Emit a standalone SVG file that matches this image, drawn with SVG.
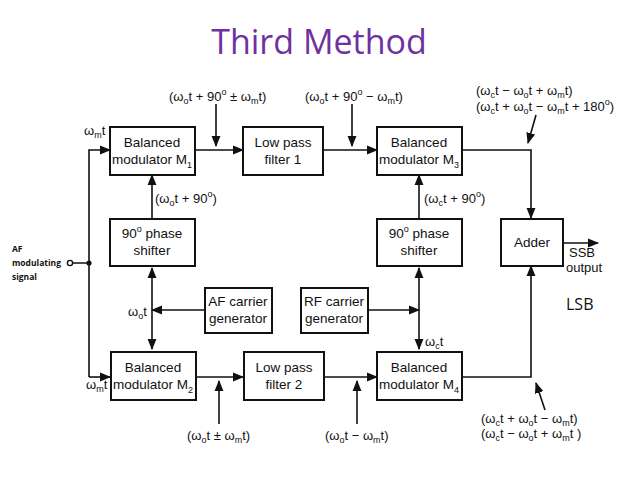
<svg xmlns="http://www.w3.org/2000/svg" width="638" height="478" viewBox="0 0 638 478">
<style>
.b{fill:#fff;stroke:#111;stroke-width:2}
.t{font-family:"Liberation Sans",Arial,sans-serif;font-size:13.5px;fill:#111;text-anchor:middle}
.l{font-family:"Liberation Sans",Arial,sans-serif;font-size:13px;fill:#111}
.c{stroke:#111;stroke-width:1.6;fill:none}
.s{font-size:9px}
</style>
<defs><marker id="a" viewBox="0 0 10 10" refX="9" refY="5" markerWidth="7" markerHeight="7" orient="auto-start-reverse"><path d="M0,1 L10,5 L0,9 z" fill="#111"/></marker></defs>
<rect width="638" height="478" fill="#fff"/>
<text x="319" y="54" font-family="Open Sans,Liberation Sans,sans-serif" font-size="34" fill="#7030A0" text-anchor="middle">Third Method</text>
<g id="connectors" class="c">
<path d="M72,263 H89 M89,377 V150 H110" marker-end="url(#a)"/>
<path d="M89,377 H110" marker-end="url(#a)"/>
<path d="M195,150 H243" marker-end="url(#a)"/>
<path d="M323,150 H377" marker-end="url(#a)"/>
<path d="M216,104 V146" marker-end="url(#a)"/>
<path d="M352,104 V146" marker-end="url(#a)"/>
<path d="M462,150 H531 V218" marker-end="url(#a)"/>
<path d="M536,115 L528,143" marker-end="url(#a)"/>
<path d="M563,243 H598" marker-end="url(#a)"/>
<path d="M152,218 V175" marker-end="url(#a)"/>
<path d="M419,218 V175" marker-end="url(#a)"/>
<path d="M205,310 H152" marker-end="url(#a)"/>
<path d="M152,268 V349" marker-start="url(#a)" marker-end="url(#a)"/>
<path d="M368,310 H419" marker-end="url(#a)"/>
<path d="M419,268 V349" marker-start="url(#a)" marker-end="url(#a)"/>
<path d="M195,377 H243" marker-end="url(#a)"/>
<path d="M323,377 H377" marker-end="url(#a)"/>
<path d="M219,424 V381" marker-end="url(#a)"/>
<path d="M357,424 V381" marker-end="url(#a)"/>
<path d="M462,377 H531 V266" marker-end="url(#a)"/>
<path d="M545,410 L536,383" marker-end="url(#a)"/>
</g>
<circle cx="70" cy="263" r="2.6" fill="#fff" stroke="#111" stroke-width="1.4"/>
<circle cx="89" cy="263" r="2.6" fill="#111"/>
<g id="m1"><rect class="b" x="110" y="127" width="85" height="48"/><text class="t" x="152" y="147">Balanced</text><text class="t" x="152" y="164">modulator M<tspan class="s" dy="4">1</tspan></text></g>
<g id="lpf1"><rect class="b" x="243" y="127" width="80" height="48"/><text class="t" x="283" y="147">Low pass</text><text class="t" x="283" y="164">filter 1</text></g>
<g id="m3"><rect class="b" x="377" y="127" width="85" height="48"/><text class="t" x="419" y="147">Balanced</text><text class="t" x="419" y="164">modulator M<tspan class="s" dy="4">3</tspan></text></g>
<g id="ps1"><rect class="b" x="110" y="219" width="85" height="47"/><text class="t" x="152" y="238">90<tspan class="s" dy="-6">o</tspan><tspan dy="6"> phase</tspan></text><text class="t" x="152" y="255">shifter</text></g>
<g id="ps2"><rect class="b" x="377" y="219" width="85" height="47"/><text class="t" x="419" y="238">90<tspan class="s" dy="-6">o</tspan><tspan dy="6"> phase</tspan></text><text class="t" x="419" y="255">shifter</text></g>
<g id="adder"><rect class="b" x="501" y="219" width="62" height="47"/><text class="t" x="532" y="247">Adder</text></g>
<g id="afgen"><rect class="b" x="205" y="288" width="67" height="45"/><text class="t" x="238" y="306">AF carrier</text><text class="t" x="238" y="323">generator</text></g>
<g id="rfgen"><rect class="b" x="301" y="288" width="67" height="45"/><text class="t" x="334" y="306">RF carrier</text><text class="t" x="334" y="323">generator</text></g>
<g id="m2"><rect class="b" x="111" y="352" width="85" height="48"/><text class="t" x="153" y="372">Balanced</text><text class="t" x="153" y="389">modulator M<tspan class="s" dy="4">2</tspan></text></g>
<g id="lpf2"><rect class="b" x="244" y="352" width="80" height="48"/><text class="t" x="284" y="372">Low pass</text><text class="t" x="284" y="389">filter 2</text></g>
<g id="m4"><rect class="b" x="377" y="352" width="85" height="48"/><text class="t" x="419" y="372">Balanced</text><text class="t" x="419" y="389">modulator M<tspan class="s" dy="4">4</tspan></text></g>
<g id="labels">
<text class="l" x="169" y="101">(ω<tspan class="s" dy="3">o</tspan><tspan dy="-3">t + 90</tspan><tspan class="s" dy="-6">o</tspan><tspan dy="6"> ± ω</tspan><tspan class="s" dy="3">m</tspan><tspan dy="-3">t)</tspan></text>
<text class="l" x="305" y="101">(ω<tspan class="s" dy="3">o</tspan><tspan dy="-3">t + 90</tspan><tspan class="s" dy="-6">o</tspan><tspan dy="6"> − ω</tspan><tspan class="s" dy="3">m</tspan><tspan dy="-3">t)</tspan></text>
<text class="l" x="476" y="95">(ω<tspan class="s" dy="3">c</tspan><tspan dy="-3">t − ω</tspan><tspan class="s" dy="3">o</tspan><tspan dy="-3">t + ω</tspan><tspan class="s" dy="3">m</tspan><tspan dy="-3">t)</tspan></text>
<text class="l" x="476" y="111">(ω<tspan class="s" dy="3">c</tspan><tspan dy="-3">t + ω</tspan><tspan class="s" dy="3">o</tspan><tspan dy="-3">t − ω</tspan><tspan class="s" dy="3">m</tspan><tspan dy="-3">t + 180</tspan><tspan class="s" dy="-6">o</tspan><tspan dy="6">)</tspan></text>
<text class="l" x="84" y="135">ω<tspan class="s" dy="3">m</tspan><tspan dy="-3">t</tspan></text>
<text class="l" x="155" y="203">(ω<tspan class="s" dy="3">o</tspan><tspan dy="-3">t + 90</tspan><tspan class="s" dy="-6">o</tspan><tspan dy="6">)</tspan></text>
<text class="l" x="424" y="203">(ω<tspan class="s" dy="3">c</tspan><tspan dy="-3">t + 90</tspan><tspan class="s" dy="-6">o</tspan><tspan dy="6">)</tspan></text>
<text x="12" y="252" font-family="Open Sans,Liberation Sans,sans-serif" font-size="8.5" font-weight="bold" fill="#111">AF</text>
<text x="12" y="266" font-family="Open Sans,Liberation Sans,sans-serif" font-size="8.5" font-weight="bold" fill="#111">modulating</text>
<text x="12" y="280" font-family="Open Sans,Liberation Sans,sans-serif" font-size="8.5" font-weight="bold" fill="#111">signal</text>
<text class="l" x="569" y="257">SSB</text>
<text class="l" x="566" y="272">output</text>
<text x="566" y="310" font-family="Open Sans,Liberation Sans,sans-serif" font-size="16" fill="#111">LSB</text>
<text class="l" x="128" y="316">ω<tspan class="s" dy="3">o</tspan><tspan dy="-3">t</tspan></text>
<text class="l" x="425" y="346">ω<tspan class="s" dy="3">c</tspan><tspan dy="-3">t</tspan></text>
<text class="l" x="86" y="389">ω<tspan class="s" dy="3">m</tspan><tspan dy="-3">t</tspan></text>
<text class="l" x="187" y="440">(ω<tspan class="s" dy="3">o</tspan><tspan dy="-3">t ± ω</tspan><tspan class="s" dy="3">m</tspan><tspan dy="-3">t)</tspan></text>
<text class="l" x="325" y="440">(ω<tspan class="s" dy="3">o</tspan><tspan dy="-3">t − ω</tspan><tspan class="s" dy="3">m</tspan><tspan dy="-3">t)</tspan></text>
<text class="l" x="481" y="423">(ω<tspan class="s" dy="3">c</tspan><tspan dy="-3">t + ω</tspan><tspan class="s" dy="3">o</tspan><tspan dy="-3">t − ω</tspan><tspan class="s" dy="3">m</tspan><tspan dy="-3">t)</tspan></text>
<text class="l" x="481" y="438">(ω<tspan class="s" dy="3">c</tspan><tspan dy="-3">t − ω</tspan><tspan class="s" dy="3">o</tspan><tspan dy="-3">t + ω</tspan><tspan class="s" dy="3">m</tspan><tspan dy="-3">t )</tspan></text>
</g>
</svg>
